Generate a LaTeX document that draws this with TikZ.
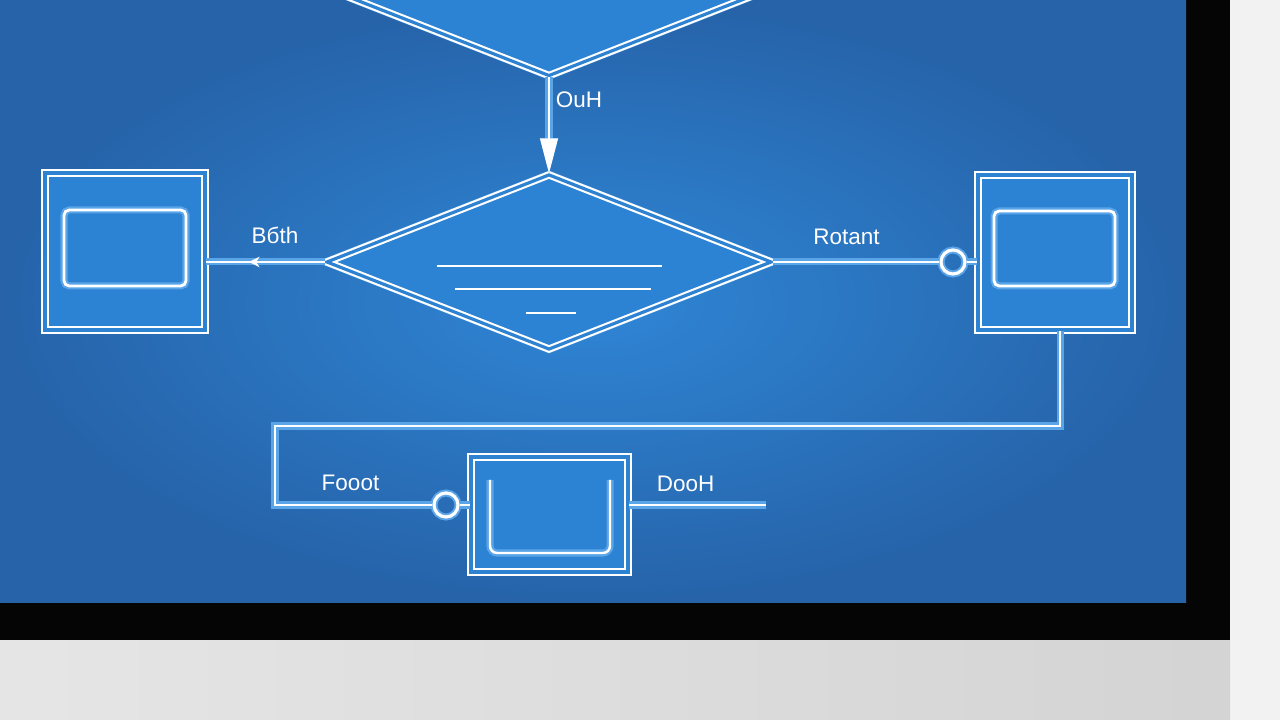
\documentclass[tikz,border=0pt]{standalone}
\usepackage{fontspec}
\setmainfont{Liberation Sans}
\usetikzlibrary{shapes.geometric,arrows.meta,decorations.markings}
\definecolor{screenc}{HTML}{2F86D6}
\definecolor{screene}{HTML}{2663A9}
\definecolor{gapc}{HTML}{2E82D2}
\definecolor{fillc}{HTML}{2D83D3}
\definecolor{glowc}{HTML}{5AA4E8}
\tikzset{
	glow/.style={preaction={draw=glowc, double=glowc, line width=0.7pt}},
	wire/.style={draw=white, line width=0.7pt, glow},
	frame/.style={rectangle, draw=white, fill=fillc, line width=0.6pt, double=gapc, double distance=0.9pt, inner sep=0pt, glow},
	panel/.style={rectangle, rounded corners=1.5pt, draw=white, line width=0.8pt, inner sep=0pt, glow},
	rhomb/.style={diamond, draw=white, fill=fillc, line width=0.6pt, double=gapc, double distance=0.9pt, inner sep=0pt, minimum width=4.45cm, minimum height=1.75cm, glow},
	port/.style={circle, draw=white, line width=0.9pt, minimum size=0.24cm, inner sep=0pt, glow},
	tag/.style={text=white, font=\fontsize{6.4}{8}\selectfont, inner sep=0pt}
}
\begin{document}
\begin{tikzpicture}
			%%%%% START %%%%%
			\useasboundingbox (0, 0) rectangle (12.8, 7.2);
			
			\fill[color=black!5] (12.3, 0) rectangle (12.8, 7.2);
			\shade[left color=black!10, right color=black!17] (0, 0) rectangle (12.3, 0.8);
			\fill[color=black!98] (0, 0.8) rectangle (12.3, 7.2);
			\shade[inner color=screenc, outer color=screene] (0, 1.17) rectangle (11.86, 7.2);
			
			\begin{scope}
			\clip (0, 1.17) rectangle (11.86, 7.2);
			
			\node[rhomb] (dtop) at (5.49, 7.315) {};
			\node[rhomb] (dmain) at (5.49, 4.58) {};
			\draw[line width=0.7pt, white] (4.37, 4.54) -- (6.62, 4.54);
			\draw[line width=0.7pt, white] (4.55, 4.31) -- (6.51, 4.31);
			\draw[line width=0.7pt, white] (5.26, 4.07) -- (5.76, 4.07);
			
			\node[frame, minimum width=1.6cm, minimum height=1.57cm] (bleft) at (1.25, 4.685) {};
			\node[panel, minimum width=1.22cm, minimum height=0.76cm] (bleftin) at (1.25, 4.72) {};
			
			\node[frame, minimum width=1.54cm, minimum height=1.55cm] (bright) at (10.55, 4.675) {};
			\node[panel, minimum width=1.21cm, minimum height=0.75cm] (brightin) at (10.545, 4.715) {};
			\node[port] (cright) at (9.53, 4.58) {};
			
			\node[frame, minimum width=1.57cm, minimum height=1.15cm] (bbot) at (5.495, 2.055) {};
			\draw[wire, rounded corners=2pt] (4.9, 2.4) -- (4.9, 1.67) -- (6.1, 1.67) -- (6.1, 2.4);
			\node[port] (cbot) at (4.46, 2.15) {};
			
			\coordinate (kL) at (2.75, 2.94);
			\coordinate (kE) at (7.66, 2.15);
			
			\draw[wire, -{Triangle[length=10pt, width=5pt]}] (dtop.south) -- (dmain.north);
			\draw[wire, decoration={markings, mark=at position 0.64 with {\arrow{Stealth[length=3pt, width=3pt]}}}, postaction={decorate}] (dmain.west) -- (dmain.west -| bleft.east);
			\draw[wire] (dmain.east) -- (cright.west);
			\draw[wire] (cright.east) -- (cright -| bright.west);
			\draw[wire] ([xshift=0.05cm]bright.south) |- (kL) |- (cbot.west);
			\draw[wire] (cbot.east) -- (cbot -| bbot.west);
			\draw[wire] (cbot -| bbot.east) -- (kE);
			
			\node[tag] (lout) at (5.79, 6.2) {OuH};
			\node[tag] (lback) at (2.75, 4.85) {Bбth};
			\node[tag] (lrot) at (8.465, 4.83) {Rotant};
			\node[tag] (lfoot) at (3.505, 2.37) {Fooot};
			\node[tag] (ldoor) at (6.855, 2.36) {DooH};
			\end{scope}
			
			%%%%% END %%%%%
		\end{tikzpicture}
\end{document}
